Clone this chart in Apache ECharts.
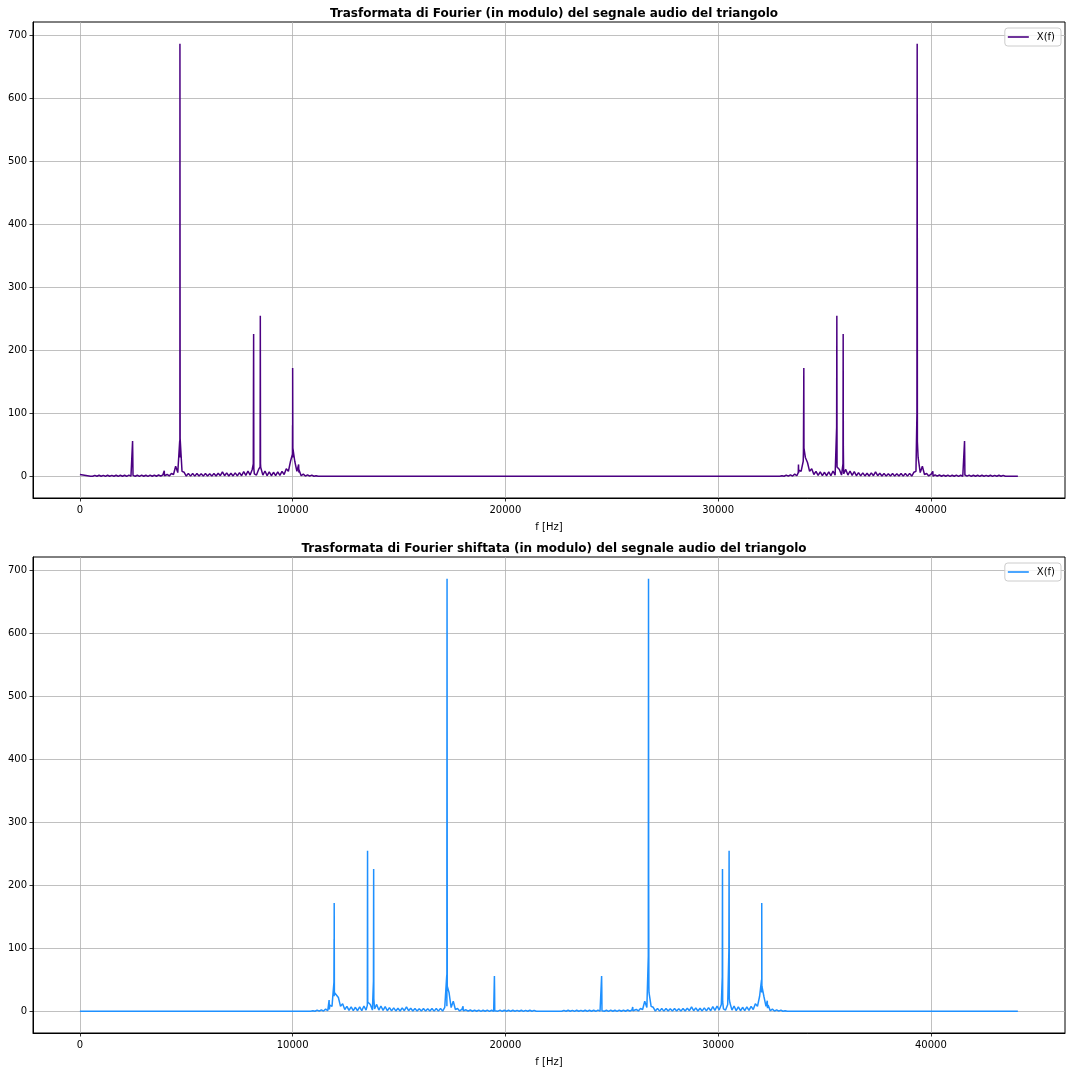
<!DOCTYPE html>
<html>
<head>
<meta charset="utf-8">
<script src="https://cdn.jsdelivr.net/npm/echarts@6/dist/echarts.min.js"></script>
<style>
html,body{margin:0;padding:0;background:#fff;}
#chart{width:1072px;height:1072px;}
</style>
</head>
<body>
<div id="chart"></div>
<script>
// ---------------- data ----------------
const xTicks = [0, 10000, 20000, 30000, 40000];
const yTicks = [0, 100, 200, 300, 400, 500, 600, 700];
const sampleRateHz = 44100;
const shiftHz = 22050;          // fftshift moves the upper half of the spectrum to the front
const bandStepHz = 100;

// noise floor of the positive-frequency half, sampled every 100 Hz from 600 Hz
const lowBandStartHz = 600;
const lowBandAmp = [
  0.1, 1.6, 0.1, 1.7, 0.1, 1.5, 0.1, 1.8, 0.2, 1.6,
  0.1, 1.7, 0.1, 1.8, 0.2, 1.7, 0.1, 1.9, 0.3, 2.2,
  0.2, 1.8, 0.1, 1.9, 0.2, 1.8, 0.1, 2.0, 0.2, 2.1,
  0.2, 2.2, 0.3, 2.5, 0.4, 3.0, 0.6, 4.5, 3.0, 16.0,
  6.0, 30.0, 8.0, 6.5, 0.5, 4.8, 0.4, 4.4, 0.4, 4.6,
  0.5, 4.2, 0.4, 4.4, 0.5, 4.3, 0.4, 4.5, 0.6, 5.0,
  1.0, 7.0, 1.0, 5.5, 0.6, 5.0, 0.7, 5.5, 0.8, 6.0,
  1.0, 7.5, 1.5, 8.5, 2.0, 11.0, 4.0, 2.0, 11.0, 14.0,
  2.0, 8.5, 1.0, 7.0, 1.0, 6.5, 1.2, 7.0, 1.5, 8.0,
  3.0, 12.0, 8.0, 24.0, 30.0, 24.0, 8.0, 10.0, 1.0, 3.5,
  0.5, 2.5, 0.3, 2.0, 0.2, 1.0
];

// noise floor of the upper half (mirror image), every 100 Hz from 33000 Hz
const highBandStartHz = 33000;
const highBandAmp = [
  1.0, 0.2, 2.0, 0.3, 2.5, 0.5, 3.5, 1.0, 10.0, 8.0,
  24.0, 30.0, 22.0, 8.0, 12.0, 3.0, 8.0, 1.5, 7.0, 1.2,
  6.5, 1.0, 7.0, 1.0, 8.5, 2.0, 14.0, 11.0, 2.0, 4.0,
  11.0, 2.0, 8.5, 1.5, 7.5, 1.0, 6.0, 0.8, 5.5, 0.7,
  5.0, 0.6, 5.5, 1.0, 7.0, 1.0, 5.0, 0.6, 4.5, 0.4,
  4.3, 0.5, 4.4, 0.4, 4.2, 0.5, 4.6, 0.4, 4.4, 0.4,
  4.8, 0.5, 6.5, 8.0, 30.0, 6.0, 16.0, 3.0, 4.5, 0.6,
  3.0, 0.4, 2.5, 0.3, 2.2, 0.2, 2.1, 0.2, 2.0, 0.1,
  1.8, 0.2, 1.9, 0.1, 1.8, 0.2, 2.2, 0.3, 1.9, 0.1,
  1.7, 0.2, 1.8, 0.1, 1.7, 0.1, 1.6, 0.2, 1.8, 0.1,
  1.5, 0.1, 1.7, 0.1, 1.6, 0.1
];

// flat parts of the spectrum [Hz, |X|]
const floorTop = [[0, 3], [30, 0.3], [500, 0.3], [11200, 0.2], [32900, 0.2], [43600, 0.3], [44090, 0.3]];
const floorBottom = [[0, 0.2], [10850, 0.2], [21550, 0.3], [22030, 0.3], [22050, 3], [22080, 0.3], [22550, 0.3], [33250, 0.2], [44090, 0.2]];

// spectral lines [Hz, |X|]
const peaksTop = [
  [2466, 1.0], [2476, 56], [2484, 38], [2496, 1.5],
  [3956, 1.0], [3966, 9], [3976, 1.0],
  [4692, 57], [4702, 687], [4712, 60],
  [8150, 20], [8158, 143], [8166, 226], [8176, 12],
  [8470, 15], [8480, 255], [8490, 20],
  [9990, 35], [9995, 81], [10000, 172], [10010, 45],
  [10272, 8], [10282, 19], [10292, 6],
  [33767, 6], [33777, 19], [33787, 6],
  [34010, 40], [34028, 172], [34035, 45],
  [35570, 78], [35580, 255], [35590, 15],
  [35868, 20], [35878, 226], [35885, 48],
  [39345, 100], [39357, 687], [39367, 55],
  [40084, 1.0], [40094, 8], [40104, 1.0],
  [41573, 2.0], [41583, 56], [41590, 38], [41600, 1.5]
];
const peaksBottom = [
  [11704, 2], [11714, 18], [11724, 3],
  [11940, 46], [11948, 115], [11953, 172], [11962, 30],
  [13511, 10], [13521, 255], [13530, 15],
  [13798, 48], [13808, 226], [13816, 20],
  [17245, 58], [17250, 246], [17258, 687], [17268, 40],
  [18000, 1], [18010, 8], [18020, 1],
  [19474, 2], [19484, 56], [19492, 35], [19500, 1],
  [24513, 1.5], [24523, 56], [24531, 38], [24540, 1],
  [25976, 1], [25986, 7], [25996, 1],
  [26718, 88], [26728, 687], [26735, 209], [26745, 40],
  [30195, 55], [30205, 226], [30214, 15],
  [30506, 98], [30516, 255], [30525, 20],
  [32040, 50], [32050, 172], [32058, 40],
  [32300, 6], [32310, 17], [32320, 5]
];

// ---------------- build series ----------------
function band(startHz, amps) {
  return amps.map((a, i) => [startHz + i * bandStepHz, a]);
}
function assemble(parts) {
  const pts = [].concat(...parts);
  pts.sort((a, b) => a[0] - b[0]);
  return pts;
}
const topSpectrum = assemble([
  floorTop, band(lowBandStartHz, lowBandAmp), band(highBandStartHz, highBandAmp), peaksTop
]);
const bottomSpectrum = assemble([
  floorBottom,
  band(highBandStartHz - shiftHz, highBandAmp),
  band(lowBandStartHz + shiftHz, lowBandAmp),
  peaksBottom
]);

const xMin = -sampleRateHz * 0.05, xMax = sampleRateHz * 1.05;
const yMin = -687 * 0.05, yMax = 687 * 1.05;

const font = 'DejaVu Sans';
function xAxis(gridIndex) {
  return {
    type: 'value', gridIndex, min: xMin, max: xMax,
    name: 'f [Hz]', nameLocation: 'middle', nameGap: 24,
    nameTextStyle: { fontFamily: font, fontSize: 10, color: '#000' },
    axisLine: { show: true, onZero: false, lineStyle: { color: '#000', width: 1 } },
    axisTick: { show: true, inside: false, length: 3.5, customValues: xTicks, lineStyle: { color: '#000', width: 0.8 } },
    axisLabel: { show: true, margin: 7, customValues: xTicks, formatter: v => String(v), fontFamily: font, fontSize: 10, color: '#000' },
    splitLine: { show: true, lineStyle: { color: '#b0b0b0', width: 0.8 } }
  };
}
function yAxis(gridIndex) {
  return {
    type: 'value', gridIndex, min: yMin, max: yMax,
    axisLine: { show: true, onZero: false, lineStyle: { color: '#000', width: 1 } },
    axisTick: { show: true, inside: false, length: 3.5, customValues: yTicks, lineStyle: { color: '#000', width: 0.8 } },
    axisLabel: { show: true, margin: 6, customValues: yTicks, formatter: v => String(v), fontFamily: font, fontSize: 10, color: '#000' },
    splitLine: { show: true, lineStyle: { color: '#b0b0b0', width: 0.8 } }
  };
}
function legend(name, top) {
  return {
    data: [name], right: 11, top, orient: 'horizontal',
    icon: 'rect', itemWidth: 21, itemHeight: 1.6,
    padding: [4, 6, 4, 3],
    backgroundColor: 'rgba(255,255,255,0.8)', borderColor: '#cccccc', borderWidth: 1, borderRadius: 3,
    formatter: () => 'X(f)',
    textStyle: { fontFamily: font, fontSize: 10, color: '#000', padding: [0, 0, 0, 3] }
  };
}

const chart = echarts.init(document.getElementById('chart'), null, { renderer: 'canvas' });
chart.setOption({
  animation: false,
  backgroundColor: '#fff',
  title: [
    { text: 'Trasformata di Fourier (in modulo) del segnale audio del triangolo', left: 549, top: 3, textAlign: 'center',
      textStyle: { fontFamily: font, fontSize: 12, fontWeight: 'bold', color: '#000' } },
    { text: 'Trasformata di Fourier shiftata (in modulo) del segnale audio del triangolo', left: 549, top: 538, textAlign: 'center',
      textStyle: { fontFamily: font, fontSize: 12, fontWeight: 'bold', color: '#000' } }
  ],
  legend: [legend('X(f)', 28), legend('X(f) ', 563)],
  grid: [
    { left: 33, right: 7, top: 22, height: 476, show: true, borderColor: '#000', borderWidth: 1, backgroundColor: 'transparent' },
    { left: 33, right: 7, top: 557, height: 476, show: true, borderColor: '#000', borderWidth: 1, backgroundColor: 'transparent' }
  ],
  xAxis: [xAxis(0), xAxis(1)],
  yAxis: [yAxis(0), yAxis(1)],
  series: [
    { name: 'X(f)', type: 'line', xAxisIndex: 0, yAxisIndex: 0, data: topSpectrum,
      showSymbol: false, symbol: 'none', sampling: null, clip: true,
      lineStyle: { color: '#4b0082', width: 1.5 }, itemStyle: { color: '#4b0082' } },
    { name: 'X(f) ', type: 'line', xAxisIndex: 1, yAxisIndex: 1, data: bottomSpectrum,
      showSymbol: false, symbol: 'none', sampling: null, clip: true,
      lineStyle: { color: '#1e90ff', width: 1.5 }, itemStyle: { color: '#1e90ff' } }
  ]
});
</script>
</body>
</html>
